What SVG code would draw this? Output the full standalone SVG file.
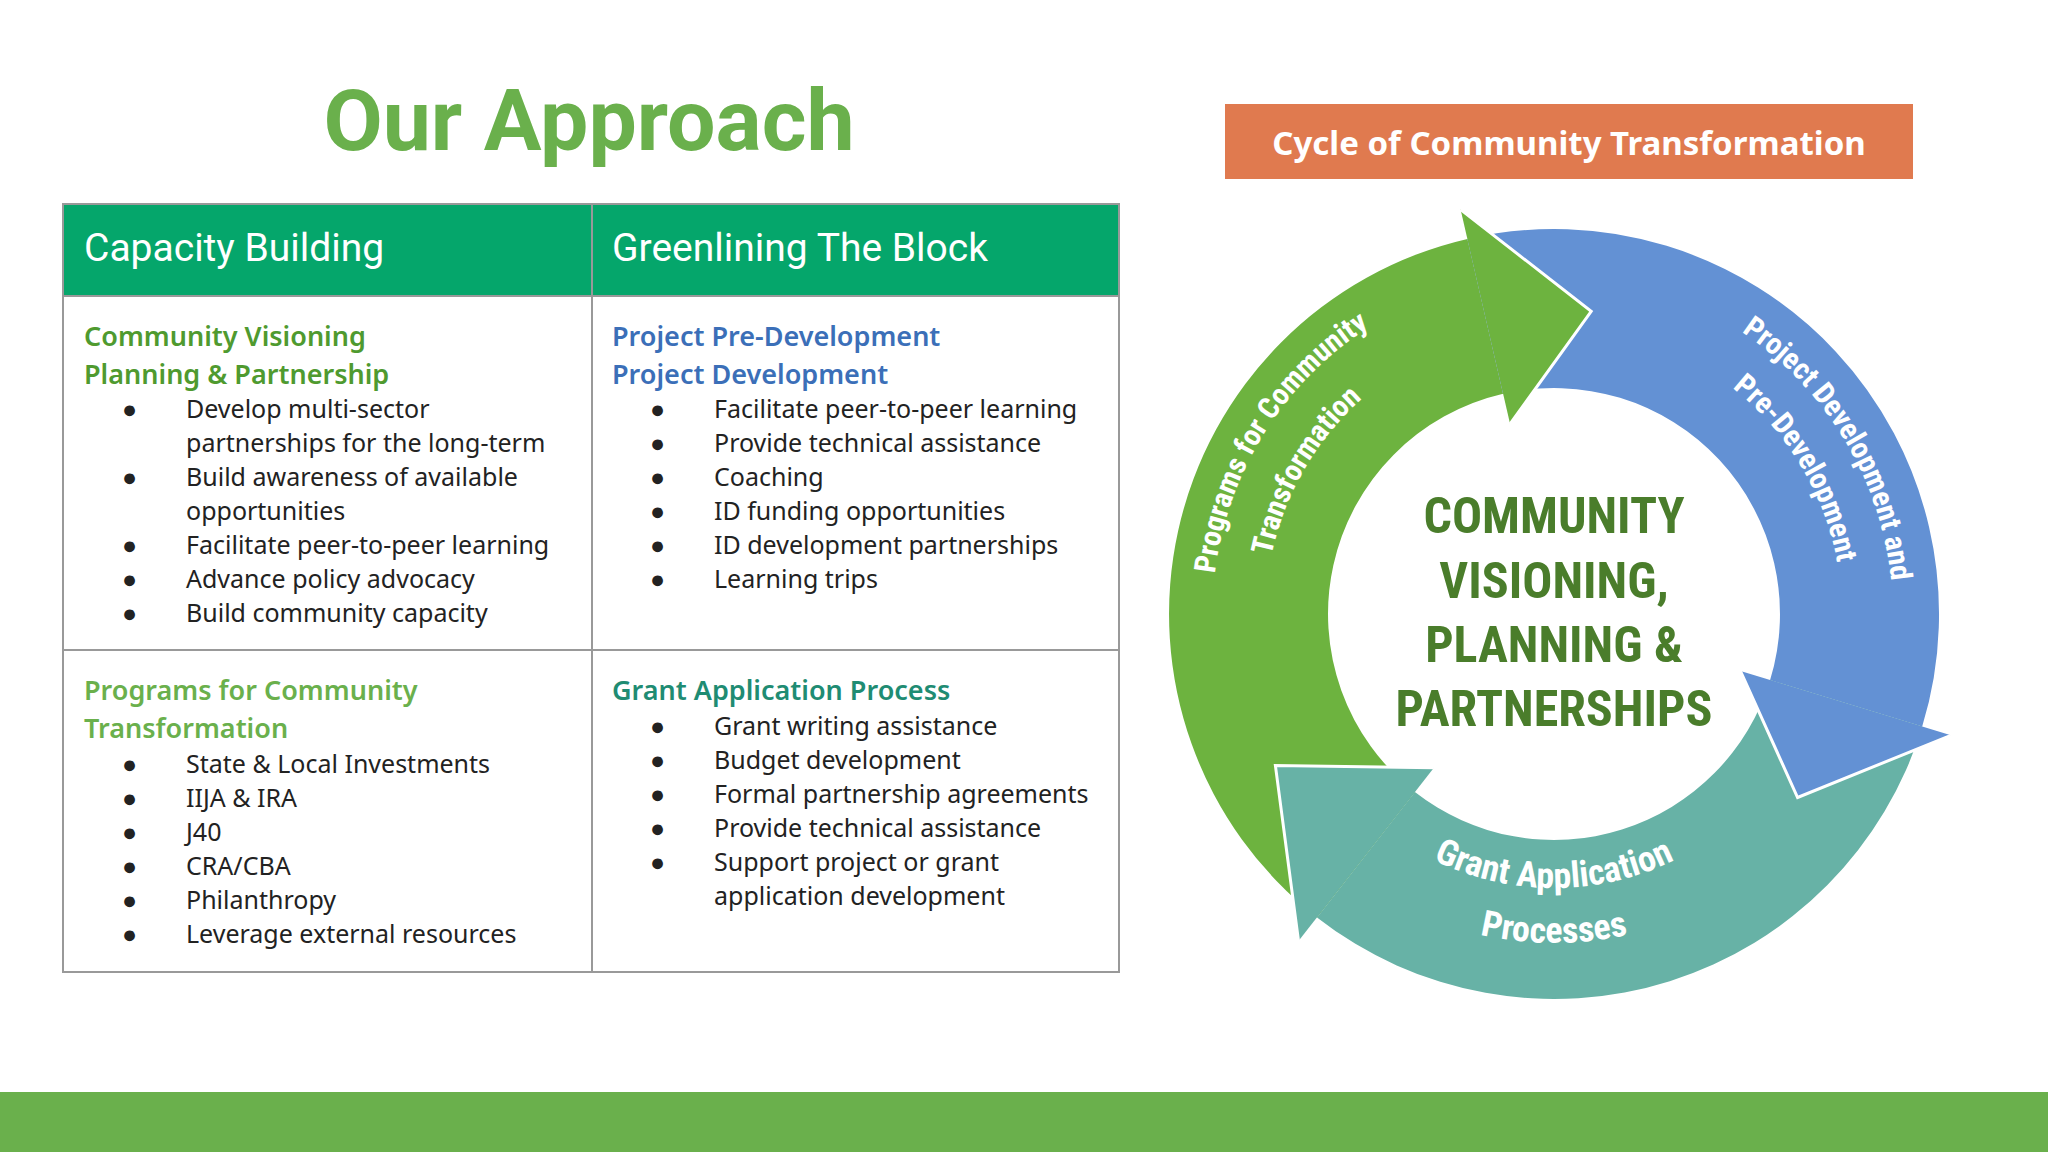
<svg xmlns="http://www.w3.org/2000/svg" width="2048" height="1152" viewBox="0 0 2048 1152">
<style>
.t{font-family:"Noto Sans","Open Sans",sans-serif;font-size:25px;fill:#222}
.sh{font-family:"Noto Sans","Open Sans",sans-serif;font-size:27px;font-weight:600}
.hd{font-family:Roboto,"Liberation Sans",sans-serif;font-size:39px;fill:#fff}
.cv{font-family:"Liberation Sans Narrow",Roboto,"Liberation Sans",sans-serif;font-stretch:condensed;font-weight:bold;fill:#fff}
.ct{font-family:"Liberation Sans Narrow",Roboto,"Liberation Sans",sans-serif;font-stretch:condensed;font-weight:bold;fill:#4a7d2b;font-size:50px;text-anchor:middle}
.hdw{stroke:#fff;stroke-width:3;stroke-linejoin:miter}
</style>
<defs>
<path id="g1" d="M1373.0 903.6 A341 341 0 0 1 1735.0 324.4"/>
<path id="g2" d="M1408.5 866.0 A291 291 0 0 1 1699.5 362.0"/>
<path id="b1" d="M1378.4 321.7 A341 341 0 0 1 1729.6 906.3"/>
<path id="b2" d="M1404.1 364.6 A291 291 0 0 1 1703.9 863.4"/>
<path id="t1" d="M1280 614 A274 274 0 0 0 1828 614"/>
<path id="t2" d="M1225 614 A329 329 0 0 0 1883 614"/>
</defs>
<rect width="2048" height="1152" fill="#fff"/>
<rect x="0" y="1092" width="2048" height="60" fill="#6ab04c"/>
<text x="589" y="150" font-family="Roboto,'Liberation Sans',sans-serif" font-weight="bold" font-size="86" fill="#6ab04c" text-anchor="middle">Our Approach</text>

<g id="table">
<rect x="63" y="204" width="1056" height="768" fill="#fff" stroke="#999" stroke-width="2"/>
<rect x="63" y="204" width="1056" height="92" fill="#05a66b" stroke="#999" stroke-width="2"/>
<line x1="592" y1="204" x2="592" y2="972" stroke="#999" stroke-width="2"/>
<line x1="63" y1="650" x2="1119" y2="650" stroke="#999" stroke-width="2"/>
<text class="hd" x="84" y="261">Capacity Building</text>
<text class="hd" x="612" y="261">Greenlining The Block</text>
</g>

<g id="cell-capacity">
<text class="sh" fill="#4f9a2f" x="84" y="346">Community Visioning</text>
<text class="sh" fill="#4f9a2f" x="84" y="384">Planning &amp; Partnership</text>
<g class="t">
<text x="122" y="418">●</text><text x="186" y="418">Develop multi-sector</text>
<text x="186" y="452">partnerships for the long-term</text>
<text x="122" y="486">●</text><text x="186" y="486">Build awareness of available</text>
<text x="186" y="520">opportunities</text>
<text x="122" y="554">●</text><text x="186" y="554">Facilitate peer-to-peer learning</text>
<text x="122" y="588">●</text><text x="186" y="588">Advance policy advocacy</text>
<text x="122" y="622">●</text><text x="186" y="622">Build community capacity</text>
</g>
</g>

<g id="cell-project">
<text class="sh" fill="#3b6fb8" x="612" y="346">Project Pre-Development</text>
<text class="sh" fill="#3b6fb8" x="612" y="384">Project Development</text>
<g class="t">
<text x="650" y="418">●</text><text x="714" y="418">Facilitate peer-to-peer learning</text>
<text x="650" y="452">●</text><text x="714" y="452">Provide technical assistance</text>
<text x="650" y="486">●</text><text x="714" y="486">Coaching</text>
<text x="650" y="520">●</text><text x="714" y="520">ID funding opportunities</text>
<text x="650" y="554">●</text><text x="714" y="554">ID development partnerships</text>
<text x="650" y="588">●</text><text x="714" y="588">Learning trips</text>
</g>
</g>

<g id="cell-programs">
<text class="sh" fill="#6ab04c" x="84" y="700">Programs for Community</text>
<text class="sh" fill="#6ab04c" x="84" y="738">Transformation</text>
<g class="t">
<text x="122" y="773">●</text><text x="186" y="773">State &amp; Local Investments</text>
<text x="122" y="807">●</text><text x="186" y="807">IIJA &amp; IRA</text>
<text x="122" y="841">●</text><text x="186" y="841">J40</text>
<text x="122" y="875">●</text><text x="186" y="875">CRA/CBA</text>
<text x="122" y="909">●</text><text x="186" y="909">Philanthropy</text>
<text x="122" y="943">●</text><text x="186" y="943">Leverage external resources</text>
</g>
</g>

<g id="cell-grant">
<text class="sh" fill="#1f8c73" x="612" y="700">Grant Application Process</text>
<g class="t">
<text x="650" y="735">●</text><text x="714" y="735">Grant writing assistance</text>
<text x="650" y="769">●</text><text x="714" y="769">Budget development</text>
<text x="650" y="803">●</text><text x="714" y="803">Formal partnership agreements</text>
<text x="650" y="837">●</text><text x="714" y="837">Provide technical assistance</text>
<text x="650" y="871">●</text><text x="714" y="871">Support project or grant</text>
<text x="714" y="905">application development</text>
</g>
</g>

<g id="banner">
<rect x="1225" y="104" width="688" height="75" fill="#e07a4f"/>
<text x="1569" y="155" font-family="'Noto Sans','Open Sans',sans-serif" font-weight="bold" font-size="33" fill="#fff" text-anchor="middle">Cycle of Community Transformation</text>
</g>

<g id="cycle">
<path d="M1317.0 917.4 A385 385 0 0 1 1467.4 238.9 L1503.1 393.8 A226 226 0 0 0 1414.9 792.1 Z" fill="#6db33f"/>
<path d="M1467.4 238.9 A385 385 0 0 1 1922.2 726.6 L1770.1 680.1 A226 226 0 0 0 1503.1 393.8 Z" fill="#6391d4"/>
<path d="M1922.2 726.6 A385 385 0 0 1 1317.0 917.4 L1414.9 792.1 A226 226 0 0 0 1770.1 680.1 Z" fill="#67b2a6"/>
<path class="hdw" d="M1460.6 209.6 L1591.2 311.3 L1510.1 424.0" fill="#6db33f"/>
<path class="hdw" d="M1950.9 735.3 L1797.6 797.5 L1740.5 671.0" fill="#6391d4"/>
<path class="hdw" d="M1298.5 941.0 L1275.4 765.6 L1433.9 767.7" fill="#67b2a6"/>
<text class="cv" font-size="30"><textPath href="#g1" startOffset="50%" text-anchor="middle">Programs for Community</textPath></text>
<text class="cv" font-size="30"><textPath href="#g2" startOffset="50%" text-anchor="middle">Transformation</textPath></text>
<text class="cv" font-size="30"><textPath href="#b1" startOffset="50%" text-anchor="middle">Project Development and</textPath></text>
<text class="cv" font-size="30"><textPath href="#b2" startOffset="50%" text-anchor="middle">Pre-Development</textPath></text>
<text class="cv" font-size="36"><textPath href="#t1" startOffset="50%" text-anchor="middle">Grant Application</textPath></text>
<text class="cv" font-size="36"><textPath href="#t2" startOffset="50%" text-anchor="middle">Processes</textPath></text>
</g>
<g id="center">
<text class="ct" x="1554" y="533">COMMUNITY</text>
<text class="ct" x="1554" y="598">VISIONING,</text>
<text class="ct" x="1554" y="662">PLANNING &amp;</text>
<text class="ct" x="1554" y="726">PARTNERSHIPS</text>
</g>
</svg>
